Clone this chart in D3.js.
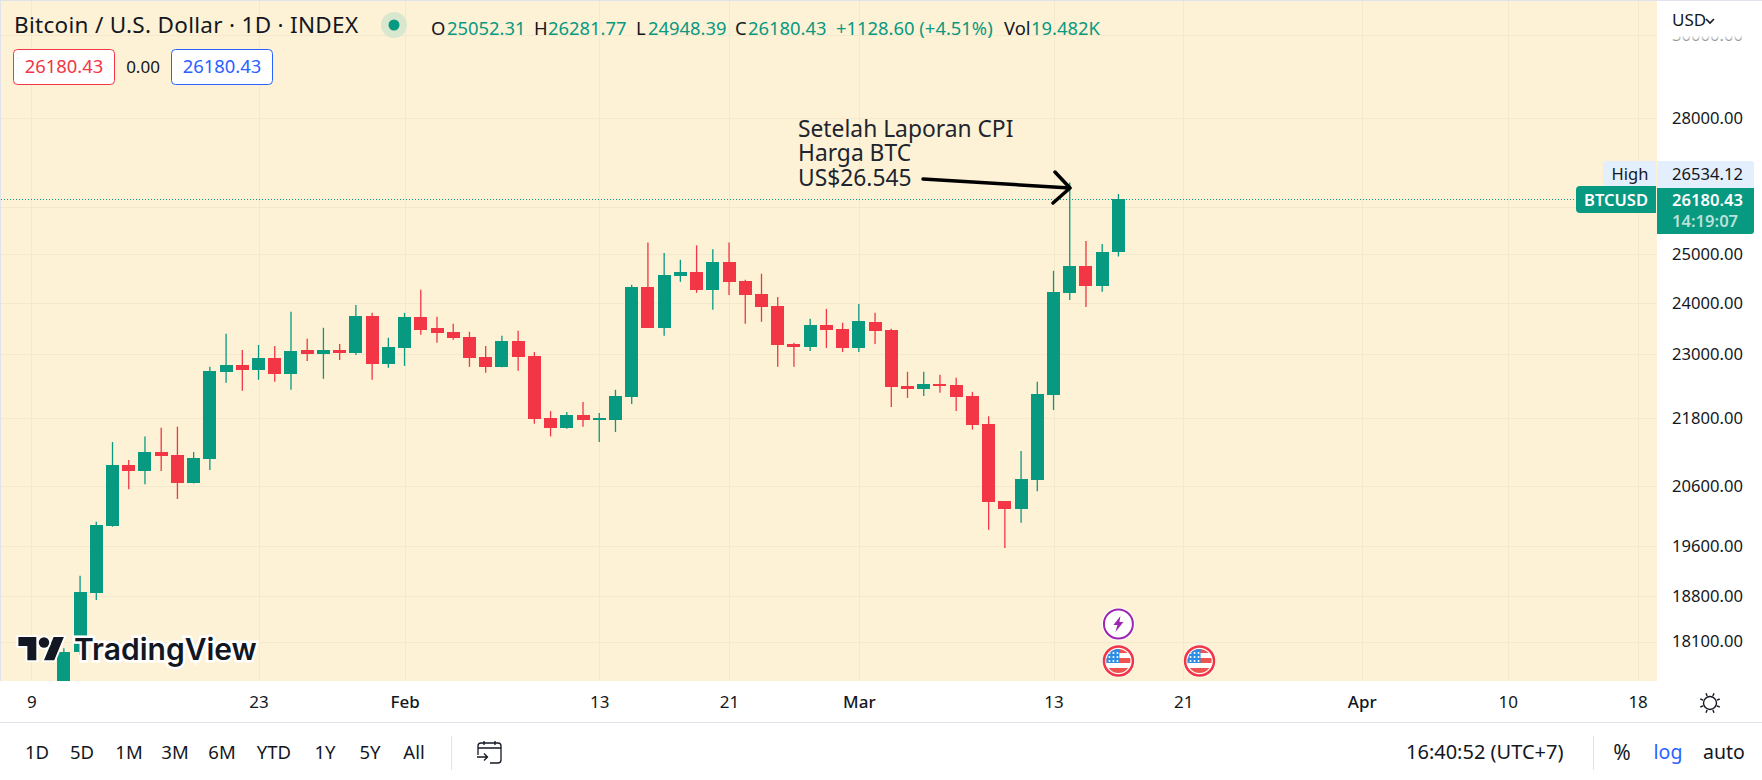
<!DOCTYPE html>
<html>
<head>
<meta charset="utf-8">
<script src="https://cdn.jsdelivr.net/npm/d3@7"></script>
<style>
  html, body { margin: 0; padding: 0; background: #fff; }
  svg { display: block; }
  text { font-family: "Noto Sans", sans-serif; fill: #131722; }
</style>
</head>
<body>
<script>
// daily candles
var dates = [
  "2023-01-11","2023-01-12","2023-01-13","2023-01-14","2023-01-15","2023-01-16","2023-01-17",
  "2023-01-18","2023-01-19","2023-01-20","2023-01-21","2023-01-22","2023-01-23","2023-01-24",
  "2023-01-25","2023-01-26","2023-01-27","2023-01-28","2023-01-29","2023-01-30","2023-01-31",
  "2023-02-01","2023-02-02","2023-02-03","2023-02-04","2023-02-05","2023-02-06","2023-02-07",
  "2023-02-08","2023-02-09","2023-02-10","2023-02-11","2023-02-12","2023-02-13","2023-02-14",
  "2023-02-15","2023-02-16","2023-02-17","2023-02-18","2023-02-19","2023-02-20","2023-02-21",
  "2023-02-22","2023-02-23","2023-02-24","2023-02-25","2023-02-26","2023-02-27","2023-02-28",
  "2023-03-01","2023-03-02","2023-03-03","2023-03-04","2023-03-05","2023-03-06","2023-03-07",
  "2023-03-08","2023-03-09","2023-03-10","2023-03-11","2023-03-12","2023-03-13","2023-03-14",
  "2023-03-15","2023-03-16","2023-03-17"
];
var opens = [
  17440,17940,18853,19934,20970,20864,21198,21146,20653,21076,22663,22794,22700,22925,22625,23078,23000,23078,23020,23745,22812,
  23118,23726,23510,23431,23333,22944,22756,23255,22962,21800,21632,21858,21790,21773,22194,24327,23510,24551,24633,24265,24837,24449,24184,23941,23196,23137,23569,23490,
  23118,23627,23471,22400,22344,22438,22419,22212,21703,20350,20216,20706,22231,24204,24755,24347,25052.31
];
var highs = [
  18000,19120,20001,21374,21058,21474,21632,21650,21198,22756,23392,23078,23176,23157,23824,23294,23510,23196,23961,23804,23314,
  23804,24265,23726,23588,23431,23157,23353,23451,23039,21933,21915,22100,21897,22325,24367,25240,25020,24880,25180,25100,25240,24469,24592,24122,23216,23686,23882,23608,
  23980,23804,23490,22663,22663,22606,22550,22288,21838,20350,21216,22475,24653,26534,25270,25210,26281.77
];
var lows = [
  17320,17900,18738,19917,20550,20635,20864,20383,20650,20882,22456,22306,22513,22475,22325,22869,22531,22888,22981,22513,22737,
  22775,23373,23216,23274,22756,22644,22750,22681,21703,21474,21614,21650,21374,21554,22062,23505,23353,24428,24204,23863,24163,23588,23627,22756,22756,23059,23118,23039,
  23039,23196,22006,22175,22212,22269,21933,21597,19867,19568,19984,20517,21952,24061,23922,24224,24948.39
];
var closes = [
  17940,18864,19951,20970,20864,21198,21128,20653,21093,22681,22794,22700,22925,22625,23059,23000,23078,23020,23745,22812,23137,
  23726,23471,23412,23314,22925,22756,23255,22944,21790,21632,21858,21773,21800,22212,24327,23510,24572,24633,24265,24837,24428,24163,23922,23176,23137,23569,23471,23118,
  23647,23451,22381,22344,22438,22400,22194,21685,20333,20216,20723,22250,24224,24755,24347,25041,26180.43
];

// 26000 has a grid line but its label sits behind the price tags
var priceTicks = [30000,28000,25000,24000,23000,21800,20600,19600,18800,18100];
var gridLevels = [30000,28000,26000,25000,24000,23000,21800,20600,19600,18800,18100];
var timeTicks = ["2023-01-09","2023-01-23","2023-02-01","2023-02-13","2023-02-21","2023-03-01","2023-03-13","2023-03-21","2023-04-01","2023-04-10","2023-04-18"];
var timeLabels = ["9","23","Feb","13","21","Mar","13","21","Apr","10","18"];
var rangeButtons = ["1D","5D","1M","3M","6M","YTD","1Y","5Y","All"];
var rangeCenters = [37,82,129,175,222,274,325,370,414];

var GREEN = "#089981", RED = "#f23645", BLUE = "#2962ff", INK = "#131722",
    PANE = "#fdf2d5", GRID = "#f4e9cd", LINE = "#e0e3eb";

var width = 1762, height = 780,
    pane = {left: 1, top: 1, right: 1657, bottom: 681},
    parseDay = d3.utcParse("%Y-%m-%d");

var x = d3.scaleUtc()
    .domain([parseDay("2023-01-09"), parseDay("2023-04-18")])
    .range([31.4, 1637.6]);
var y = d3.scaleLog()
    .domain([17515, 30868])
    .range([pane.bottom, pane.top]);

var svg = d3.select("body").append("svg")
    .attr("width", width)
    .attr("height", height);

svg.append("rect").attr("width", width).attr("height", height).attr("fill", "#fff");

svg.append("defs").append("clipPath").attr("id", "paneClip")
  .append("rect")
    .attr("x", pane.left).attr("y", pane.top)
    .attr("width", pane.right - pane.left).attr("height", pane.bottom - pane.top);

var fade = svg.select("defs").append("linearGradient")
    .attr("id", "topFade").attr("x1", 0).attr("x2", 0).attr("y1", 0).attr("y2", 1);
fade.append("stop").attr("offset", "80%").attr("stop-color", "#fff").attr("stop-opacity", 1);
fade.append("stop").attr("offset", "100%").attr("stop-color", "#fff").attr("stop-opacity", 0.2);

// outer edges of the widget
svg.append("rect").attr("width", width).attr("height", 1).attr("fill", LINE);
svg.append("rect").attr("width", 1).attr("height", pane.bottom).attr("fill", LINE);

svg.append("rect")
    .attr("x", pane.left).attr("y", pane.top)
    .attr("width", pane.right - pane.left).attr("height", pane.bottom - pane.top)
    .attr("fill", PANE);

// grid
var plot = svg.append("g").attr("clip-path", "url(#paneClip)");
plot.selectAll(".hgrid").data(gridLevels).enter().append("line")
    .attr("x1", pane.left).attr("x2", pane.right)
    .attr("y1", function(d) { return Math.round(y(d)) + 0.5; })
    .attr("y2", function(d) { return Math.round(y(d)) + 0.5; })
    .attr("stroke", GRID);
plot.selectAll(".vgrid").data(timeTicks).enter().append("line")
    .attr("x1", function(d) { return Math.round(x(parseDay(d))) + 0.5; })
    .attr("x2", function(d) { return Math.round(x(parseDay(d))) + 0.5; })
    .attr("y1", pane.top).attr("y2", pane.bottom)
    .attr("stroke", GRID);

// last price line
var lastY = Math.round(y(closes[closes.length - 1])) + 0.5;
plot.append("line")
    .attr("x1", pane.left).attr("x2", 1576)
    .attr("y1", lastY).attr("y2", lastY)
    .attr("stroke", GREEN).attr("stroke-width", 1).attr("stroke-dasharray", "1,2");

// candles
var bars = dates.map(function(d, i) {
  return {date: parseDay(d), o: opens[i], h: highs[i], l: lows[i], c: closes[i]};
});
var candleW = 13;
var candle = plot.selectAll(".candle").data(bars).enter().append("g");
candle.append("line")
    .attr("x1", function(d) { return x(d.date); })
    .attr("x2", function(d) { return x(d.date); })
    .attr("y1", function(d) { return y(d.h); })
    .attr("y2", function(d) { return y(d.l); })
    .attr("stroke", function(d) { return d.c >= d.o ? GREEN : RED; })
    .attr("stroke-width", 1.3);
candle.append("rect")
    .attr("x", function(d) { return x(d.date) - candleW / 2; })
    .attr("width", candleW)
    .attr("y", function(d) { return y(Math.max(d.o, d.c)); })
    .attr("height", function(d) { return Math.max(1.5, Math.abs(y(d.o) - y(d.c))); })
    .attr("fill", function(d) { return d.c >= d.o ? GREEN : RED; })
    .attr("shape-rendering", "crispEdges");

// price axis
var yAxis = svg.append("g")
    .attr("transform", "translate(1672,0)")
    .call(d3.axisRight(y).tickValues(priceTicks).tickFormat(d3.format(".2f")).tickSize(0).tickPadding(0));
yAxis.select(".domain").remove();
yAxis.selectAll("text").attr("font-size", 16.6).attr("font-family", '"Noto Sans", sans-serif').attr("fill", INK);

// USD button sits above the half hidden top label
svg.append("rect").attr("x", 1658).attr("y", 1).attr("width", 100).attr("height", 43).attr("fill", "url(#topFade)");
svg.append("text").attr("x", 1672).attr("y", 26).attr("font-size", 17).text("USD");
svg.append("path").attr("d", "M1706 19l4 4 4-4").attr("fill", "none").attr("stroke", INK).attr("stroke-width", 1.6);

// time axis
var xAxis = svg.append("g")
    .attr("transform", "translate(0,696)")
    .call(d3.axisBottom(x)
      .tickValues(timeTicks.map(parseDay))
      .tickFormat(function(d, i) { return timeLabels[i]; })
      .tickSize(0).tickPadding(0));
xAxis.select(".domain").remove();
xAxis.selectAll("text")
    .attr("font-size", 17).attr("font-family", '"Noto Sans", sans-serif').attr("fill", INK)
    .attr("font-weight", function(d, i) { return /[A-Z]/.test(timeLabels[i]) ? 500 : 400; });

svg.append("line").attr("x1", 0).attr("x2", width).attr("y1", 722.5).attr("y2", 722.5).attr("stroke", LINE);

// legend
svg.append("text").attr("x", 14).attr("y", 33).attr("font-size", 22.5).attr("letter-spacing", 0.3).text("Bitcoin / U.S. Dollar \u00b7 1D \u00b7 INDEX");
svg.append("circle").attr("cx", 394).attr("cy", 25).attr("r", 13).attr("fill", "#d9e7cf");
svg.append("circle").attr("cx", 394).attr("cy", 25).attr("r", 5.5).attr("fill", GREEN);

var legend = [
  {x: 431, t: "O", c: INK}, {x: 447, t: "25052.31", c: GREEN},
  {x: 534, t: "H", c: INK}, {x: 548, t: "26281.77", c: GREEN},
  {x: 636, t: "L", c: INK}, {x: 648, t: "24948.39", c: GREEN},
  {x: 735, t: "C", c: INK}, {x: 748, t: "26180.43", c: GREEN},
  {x: 836, t: "+1128.60 (+4.51%)", c: GREEN},
  {x: 1004, t: "Vol", c: INK}, {x: 1031, t: "19.482K", c: GREEN}
];
svg.selectAll(".legend").data(legend).enter().append("text")
    .attr("x", function(d) { return d.x; })
    .attr("y", 35)
    .attr("font-size", 18.4)
    .style("fill", function(d) { return d.c; })
    .text(function(d) { return d.t; });

svg.append("rect").attr("x", 13.5).attr("y", 49.5).attr("width", 101).attr("height", 35).attr("rx", 4)
    .attr("fill", "#fff").attr("stroke", RED);
svg.append("text").attr("x", 64).attr("y", 73).attr("text-anchor", "middle").attr("font-size", 18.4).style("fill", RED).text("26180.43");
svg.append("text").attr("x", 143).attr("y", 73).attr("text-anchor", "middle").attr("font-size", 17).text("0.00");
svg.append("rect").attr("x", 171.5).attr("y", 49.5).attr("width", 101).attr("height", 35).attr("rx", 4)
    .attr("fill", "#fff").attr("stroke", BLUE);
svg.append("text").attr("x", 222).attr("y", 73).attr("text-anchor", "middle").attr("font-size", 18.4).style("fill", BLUE).text("26180.43");

// annotation
var note = ["Setelah Laporan CPI", "Harga BTC", "US$26.545"];
svg.selectAll(".note").data(note).enter().append("text")
    .attr("x", 798)
    .attr("y", function(d, i) { return 137 + i * 24.4; })
    .attr("font-size", 22.8)
    .style("fill", "#20242e")
    .text(function(d) { return d; });
svg.append("path")
    .attr("d", "M923 179L1070 188M1055 172L1070 188L1053 203")
    .attr("fill", "none").attr("stroke", "#000").attr("stroke-width", 3.5).attr("stroke-linecap", "round").attr("stroke-linejoin", "round");

// price tags
svg.append("path").attr("d", "M1656 161H1607a4 4 0 0 0-4 4V188H1656Z").attr("fill", "#e3effd");
svg.append("path").attr("d", "M1657 161H1751a3 3 0 0 1 3 3V188H1657Z").attr("fill", "#e3effd");
svg.append("text").attr("x", 1630).attr("y", 180).attr("text-anchor", "middle").attr("font-size", 16.5).text("High");
svg.append("text").attr("x", 1672).attr("y", 180).attr("font-size", 16.6).text("26534.12");

svg.append("path").attr("d", "M1656 186H1580a4 4 0 0 0-4 4V209a4 4 0 0 0 4 4H1656Z").attr("fill", GREEN);
svg.append("path").attr("d", "M1657 188H1754V231a3 3 0 0 1-3 3H1657Z").attr("fill", GREEN);
svg.append("text").attr("x", 1616).attr("y", 206).attr("text-anchor", "middle").attr("font-size", 16.5).attr("font-weight", 600).style("fill", "#fff").text("BTCUSD");
svg.append("text").attr("x", 1672).attr("y", 206).attr("font-size", 16.6).attr("font-weight", 600).style("fill", "#fff").text("26180.43");
svg.append("text").attr("x", 1672).attr("y", 227).attr("font-size", 16.6).attr("font-weight", 600).style("fill", "#fff").style("fill-opacity", 0.72).text("14:19:07");

// watermark
var logo = svg.append("g");
logo.append("path")
    .attr("transform", "translate(18.4,632) scale(1.28)")
    .attr("d", "M14 22H7V11H0V4h14v18zM28 22h-8l7.5-18h8L28 22z")
    .attr("fill", INK).attr("stroke", "#fff").attr("stroke-width", 3).style("paint-order", "stroke");
logo.append("circle")
    .attr("cx", 44).attr("cy", 642.5).attr("r", 5.2)
    .attr("fill", INK).attr("stroke", "#fff").attr("stroke-width", 3.5).style("paint-order", "stroke");
logo.append("text")
    .attr("x", 74).attr("y", 660)
    .attr("font-size", 30).attr("font-weight", 600)
    .style("font-family", "Inter, sans-serif")
    .style("fill", INK).style("stroke", "#fff").style("stroke-width", 5).style("paint-order", "stroke")
    .text("TradingView");

// events
var evSplit = parseDay("2023-03-17"), evEcon = [parseDay("2023-03-17"), parseDay("2023-03-22")];
svg.append("ellipse").attr("cx", x(evSplit)).attr("cy", 624).attr("rx", 16.5).attr("ry", 16.5).attr("fill", "#fff");
svg.append("circle").attr("cx", x(evSplit)).attr("cy", 624).attr("r", 14.5).attr("fill", "#fff").attr("stroke", "#9c27b0").attr("stroke-width", 2);
svg.append("path")
    .attr("transform", "translate(" + x(evSplit) + ",624)")
    .attr("d", "M2-8L-5 1H-1L-3 8L5-2H1Z").attr("fill", "#9c27b0");

evEcon.forEach(function(d, i) {
  var g = svg.append("g").attr("transform", "translate(" + x(d) + ",661)");
  var clipId = "flag" + i;
  g.append("clipPath").attr("id", clipId).append("circle").attr("r", 12);
  g.append("circle").attr("r", 16.5).attr("fill", "#fff");
  g.append("circle").attr("r", 14.5).attr("fill", "#fff").attr("stroke", RED).attr("stroke-width", 2.5);
  var flag = g.append("g").attr("clip-path", "url(#" + clipId + ")");
  flag.append("rect").attr("x", -13).attr("y", -12).attr("width", 26).attr("height", 4).attr("fill", "#ef5350");
  flag.append("rect").attr("x", -13).attr("y", -3).attr("width", 26).attr("height", 5).attr("fill", "#ef5350");
  flag.append("rect").attr("x", -13).attr("y", 7).attr("width", 26).attr("height", 6).attr("fill", "#ef5350");
  flag.append("rect").attr("x", -13).attr("y", -13).attr("width", 14).attr("height", 15).attr("fill", "#2e8ee6");
  [-8, -4, 0].forEach(function(py) {
    [-9, -5, -1].forEach(function(px) {
      flag.append("circle").attr("cx", px).attr("cy", py).attr("r", 1).attr("fill", "#fff");
    });
  });
});

// sun icon (theme toggle)
var sun = svg.append("g").attr("transform", "translate(1710,703)").attr("stroke", INK).attr("fill", "none").attr("stroke-width", 1.4);
sun.append("circle").attr("r", 6.5);
d3.range(8).forEach(function(k) {
  var a = k * Math.PI / 4 + Math.PI / 8;
  sun.append("line")
      .attr("x1", 7.5 * Math.cos(a)).attr("y1", 7.5 * Math.sin(a))
      .attr("x2", 10.5 * Math.cos(a)).attr("y2", 10.5 * Math.sin(a));
});

// bottom toolbar
svg.selectAll(".range").data(rangeButtons).enter().append("text")
    .attr("x", function(d, i) { return rangeCenters[i]; })
    .attr("y", 759)
    .attr("text-anchor", "middle")
    .attr("font-size", 18.5)
    .text(function(d) { return d; });
svg.append("line").attr("x1", 451.5).attr("x2", 451.5).attr("y1", 736).attr("y2", 770).attr("stroke", LINE);
svg.append("line").attr("x1", 1593.5).attr("x2", 1593.5).attr("y1", 736).attr("y2", 770).attr("stroke", LINE);
svg.append("path")
    .attr("d", "M478 755V746a3 3 0 0 1 3-3H498a3 3 0 0 1 3 3V760a3 3 0 0 1-3 3H490M478 748H501M484 741V745M495 741V745M477 757H487M484 753.5L487.5 757L484 760.5")
    .attr("fill", "none").attr("stroke", INK).attr("stroke-width", 1.3);

svg.append("text").attr("x", 1406).attr("y", 759).attr("font-size", 20).text("16:40:52 (UTC+7)");
svg.append("text").attr("x", 1622).attr("y", 760).attr("text-anchor", "middle").attr("font-size", 21).text("%");
svg.append("text").attr("x", 1668).attr("y", 759).attr("text-anchor", "middle").attr("font-size", 19.5).style("fill", BLUE).text("log");
svg.append("text").attr("x", 1724).attr("y", 759).attr("text-anchor", "middle").attr("font-size", 19.5).text("auto");
</script>
</body>
</html>
